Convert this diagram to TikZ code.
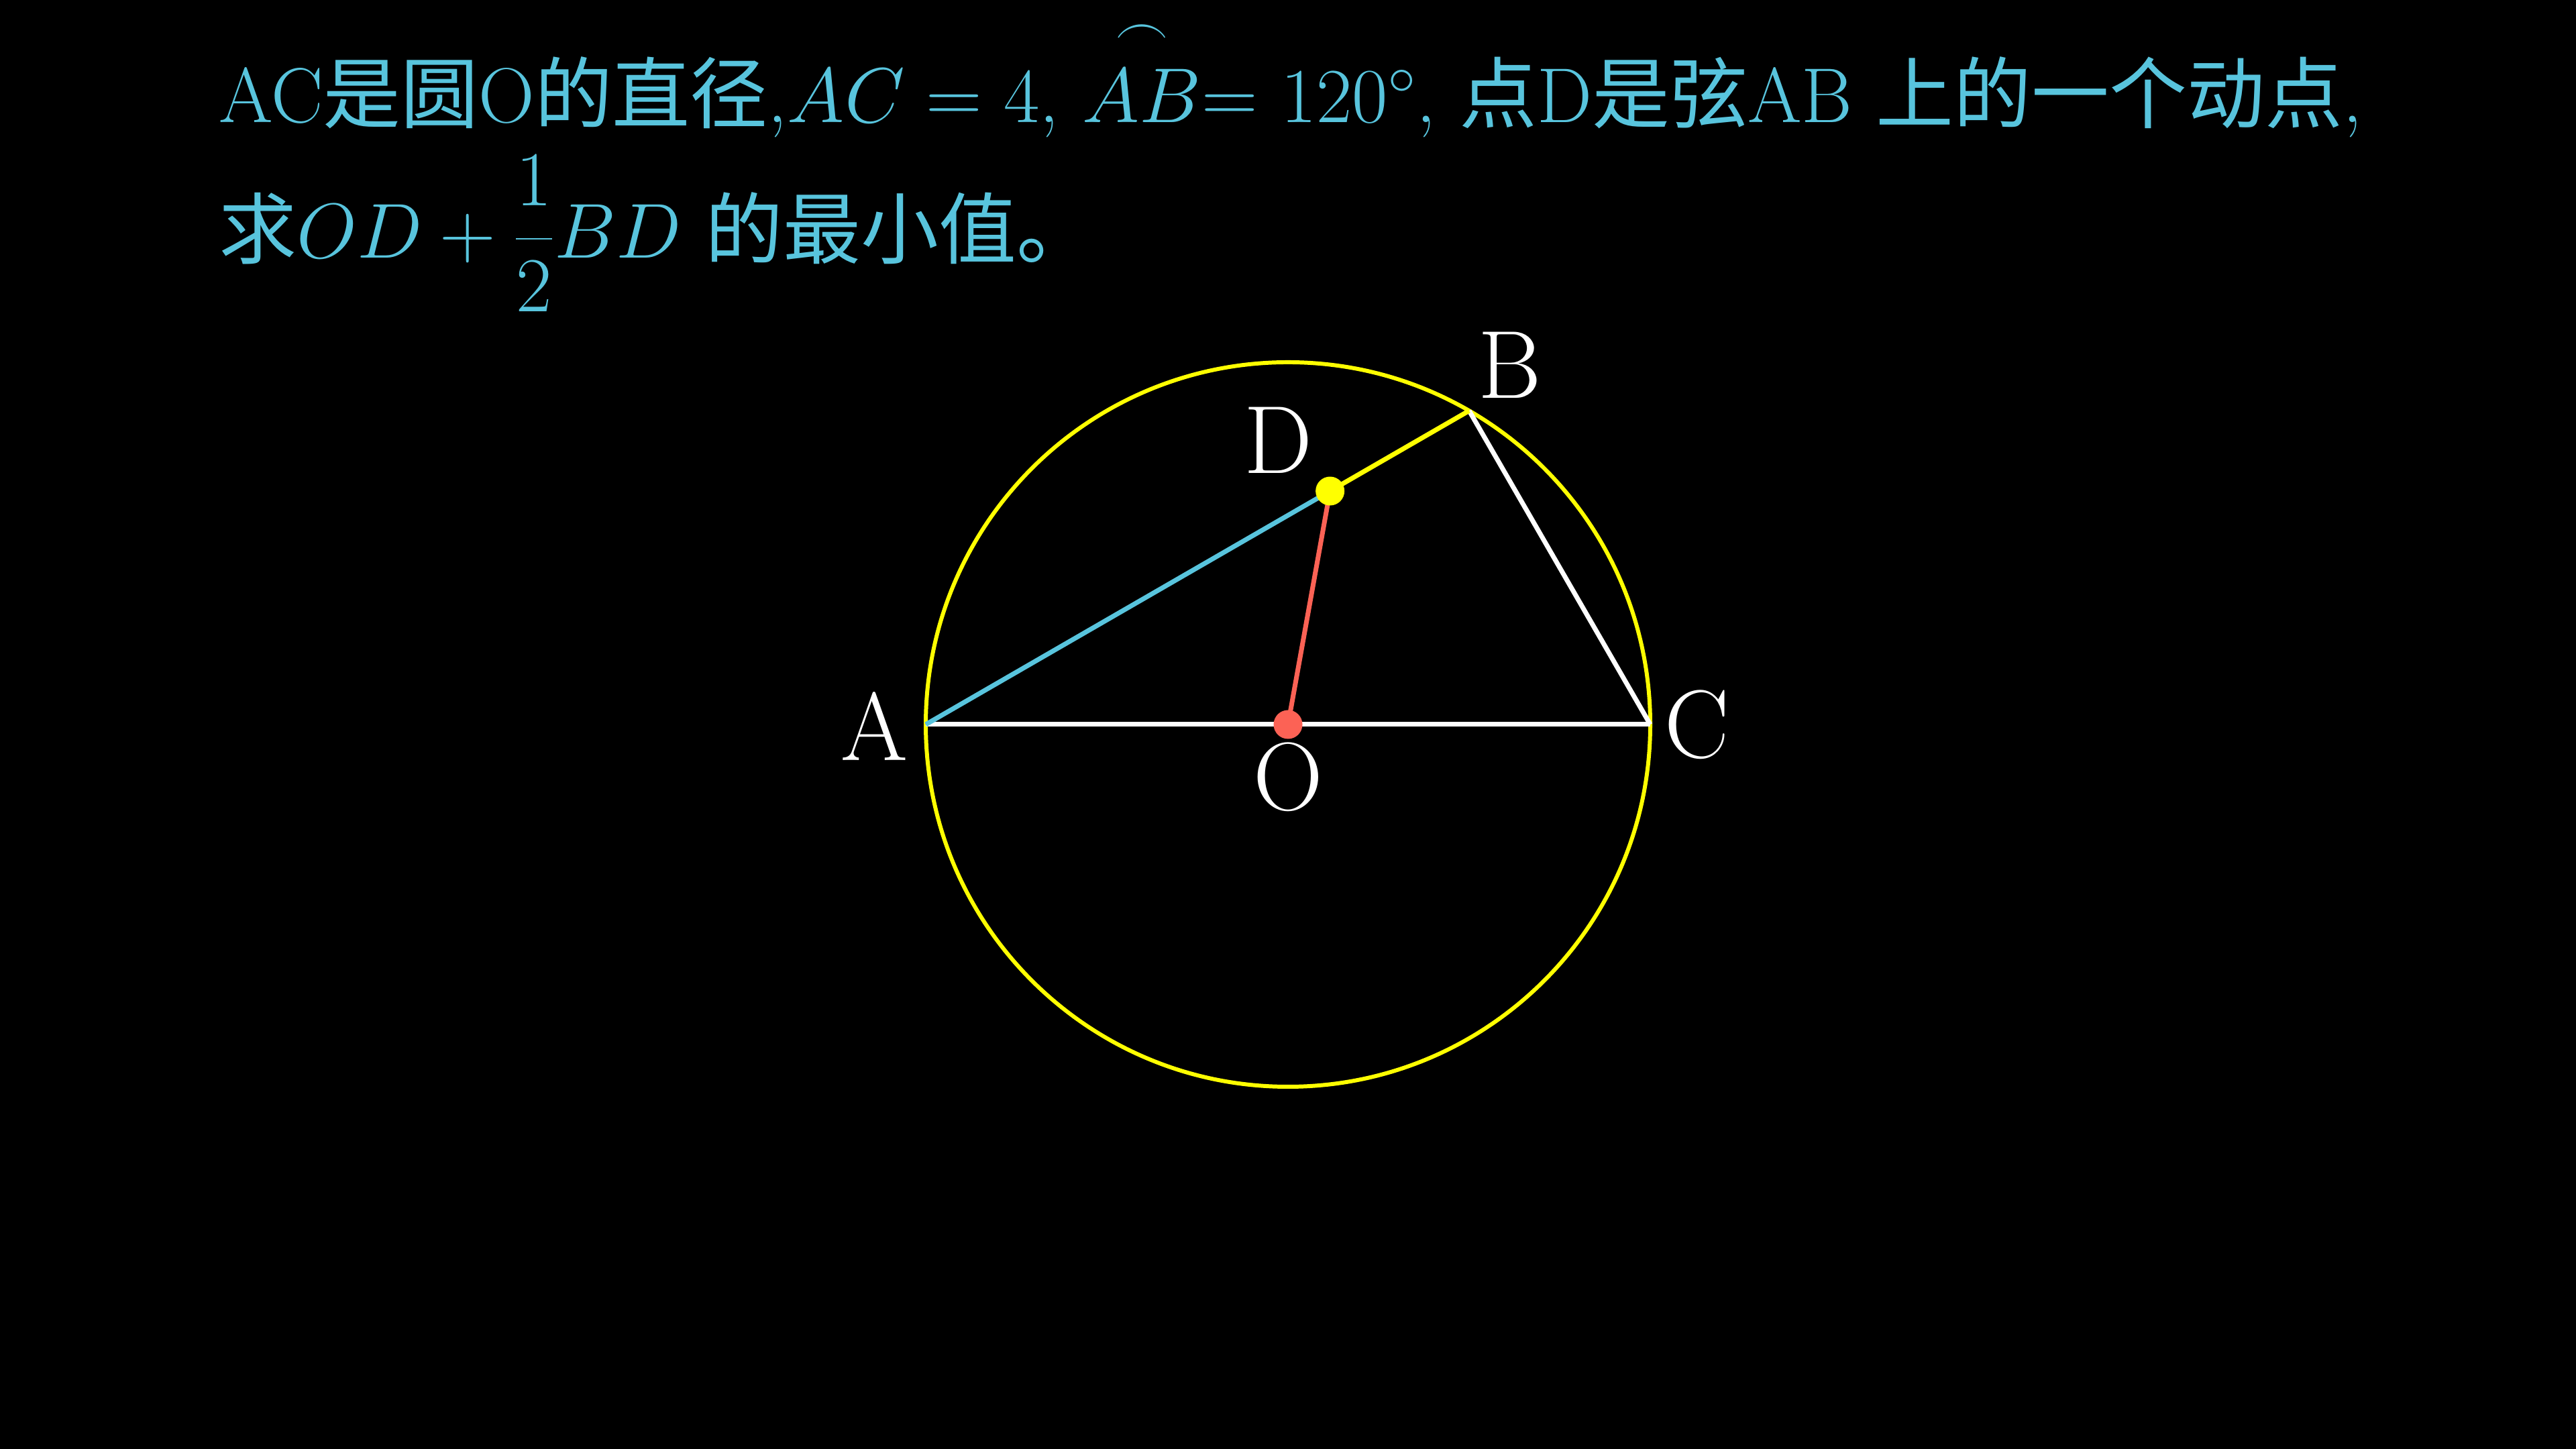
\RequirePackage{fix-cm}
\documentclass[tikz,border=0pt]{standalone}
\usepackage{fontspec}
\usetikzlibrary{calc}
\newfontfamily\cjk{Noto Sans CJK SC}
\definecolor{mblue}{HTML}{58C4DD}
\definecolor{mred}{HTML}{FC6255}
\definecolor{myellow}{HTML}{FFFF00}
\tikzset{
  txt/.style={text=mblue, anchor=base west, inner sep=0pt, font=\fontsize{33}{40}\selectfont},
  lbl/.style={text=white, inner sep=0pt, font=\fontsize{41}{49}\selectfont},
  seg/.style={line width=2pt},
  dotpt/.style={circle, inner sep=0pt, minimum size=0.43cm},
}
\begin{document}
\begin{tikzpicture}
\fill[black] (0,0) rectangle (38.4,21.6);
\useasboundingbox (0,0) rectangle (38.4,21.6);
% text
\node[txt] (t1) at (3.26,19.77) {AC{\cjk 是圆}O{\cjk 的直径},$AC=4$, $\stackrel{\raisebox{0.25em}{$\scriptstyle\frown$}}{AB}$= $120^\circ$, {\cjk 点}D{\cjk 是弦}AB {\cjk 上的一个动点},};
\node[txt] (t2) at (3.26,17.75) {{\cjk 求}$OD+\displaystyle\frac{1}{2}BD$ {\cjk 的最小值。}};
% geometry
\coordinate (O) at (19.2,10.8);
\coordinate (A) at (13.8,10.8);
\coordinate (C) at (24.6,10.8);
\coordinate (B) at (21.9,15.477);
\coordinate (D) at ($(A)!0.744!(B)$);
\draw[myellow, line width=1.7pt] (O) circle (5.4);
\draw[white, seg] (A) -- (C);
\draw[white, seg] (B) -- (C);
\draw[mblue, seg] (A) -- (D);
\draw[myellow, seg] (D) -- (B);
\draw[mred, seg] (O) -- (D);
\node[dotpt, fill=mred] (Odot) at (O) {};
\node[dotpt, fill=myellow] (Ddot) at (D) {};
% labels
\node[lbl] (lA) at (13.03,10.77) {A};
\node[lbl] (lC) at (25.30,10.80) {C};
\node[lbl] (lO) at (19.20,10.02) {O};
\node[lbl] (lB) at (22.51,16.16) {B};
\node[lbl] (lD) at (19.05,15.04) {D};
\end{tikzpicture}
\end{document}
